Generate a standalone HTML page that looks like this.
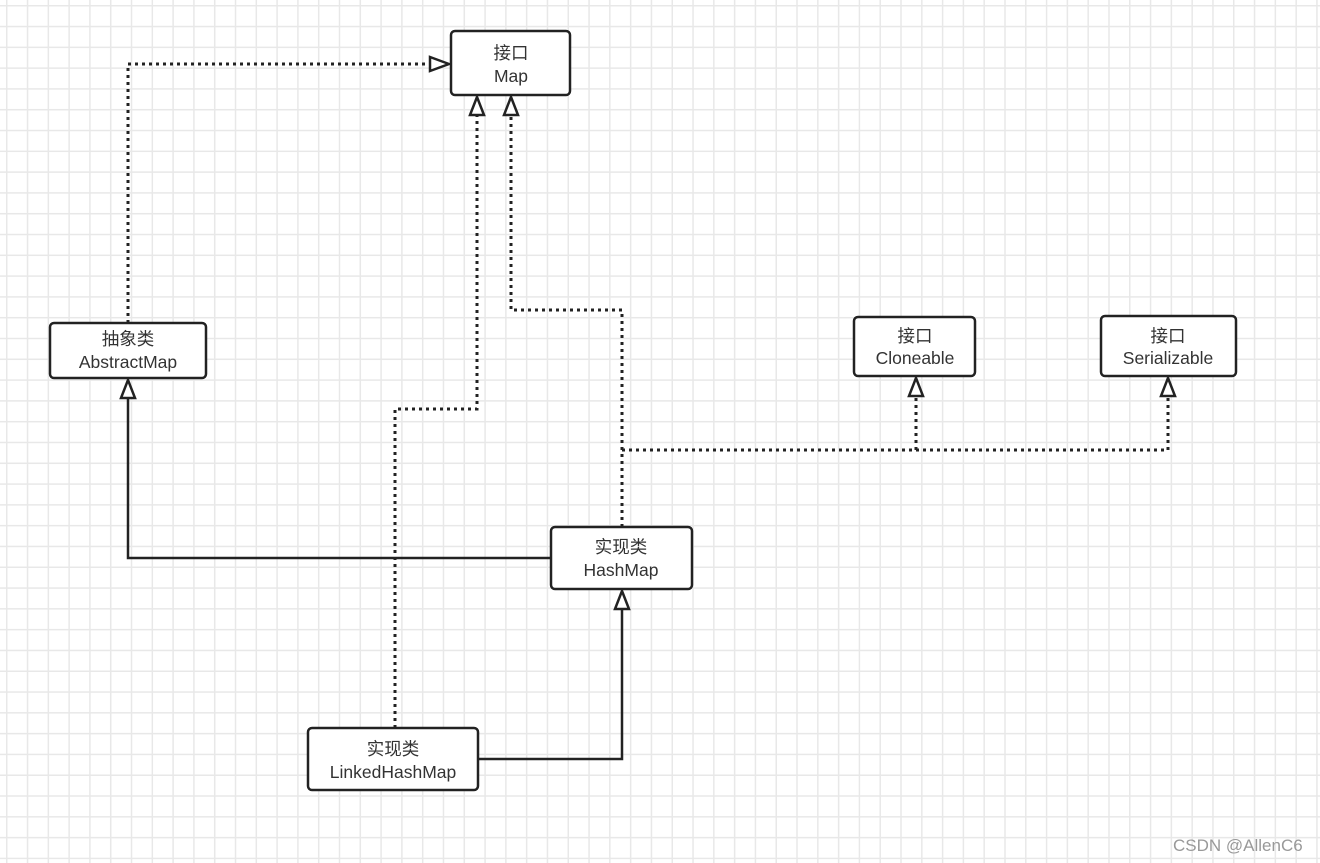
<!DOCTYPE html>
<html><head><meta charset="utf-8"><style>
html,body{margin:0;padding:0;background:#fff;}
body{width:1320px;height:863px;overflow:hidden;position:relative;
background-image:linear-gradient(to right,#e8e8e8 1.5px,transparent 1.5px),linear-gradient(to bottom,#e8e8e8 1.5px,transparent 1.5px);
background-size:20.8px 20.8px;background-position:6px 5px;}
svg{position:absolute;left:0;top:0;}
.wm{position:absolute;left:1173px;top:836px;font:17px "Liberation Sans",sans-serif;color:#999;}
</style></head><body>
<svg width="1320" height="863" font-family="'Liberation Sans','Noto Sans CJK SC',sans-serif" font-size="17.5" fill="#333">
<g fill="none" stroke="#222" stroke-width="3" stroke-dasharray="3,4">
<path d="M128 323 V64 H432"/>
<path d="M395 728 V409 H477 V114"/>
<path d="M622 527 V310 H511 V114"/>
<path d="M622 527 V450 H916 V395"/>
<path d="M622 450 H1168 V395"/>
</g>
<g fill="none" stroke="#222" stroke-width="2.5">
<path d="M551 558 H128 V397"/>
<path d="M478 759 H622 V609"/>
</g>
<g fill="#fff" stroke="#222" stroke-width="2.5">
<polygon points="449,64 430,57 430,71"/>
<polygon points="477,97 470,115 484,115"/>
<polygon points="511,97 504,115 518,115"/>
<polygon points="916,378 909,396 923,396"/>
<polygon points="1168,378 1161,396 1175,396"/>
<polygon points="128,380 121,398 135,398"/>
<polygon points="622,591 615,609 629,609"/>
</g>
<g fill="#fff" stroke="#222" stroke-width="2.5">
<rect x="451" y="31" width="119" height="64" rx="4"/>
<rect x="50" y="323" width="156" height="55" rx="4"/>
<rect x="854" y="317" width="121" height="59" rx="4"/>
<rect x="1101" y="316" width="135" height="60" rx="4"/>
<rect x="551" y="527" width="141" height="62" rx="4"/>
<rect x="308" y="728" width="170" height="62" rx="4"/>
</g>
<g text-anchor="middle">
<text x="511" y="59">接口</text><text x="511" y="82">Map</text>
<text x="128" y="345">抽象类</text><text x="128" y="368">AbstractMap</text>
<text x="915" y="342">接口</text><text x="915" y="364">Cloneable</text>
<text x="1168" y="342">接口</text><text x="1168" y="364">Serializable</text>
<text x="621" y="553">实现类</text><text x="621" y="576">HashMap</text>
<text x="393" y="755">实现类</text><text x="393" y="778">LinkedHashMap</text>
</g>
</svg>
<div class="wm">CSDN @AllenC6</div>
</body></html>
